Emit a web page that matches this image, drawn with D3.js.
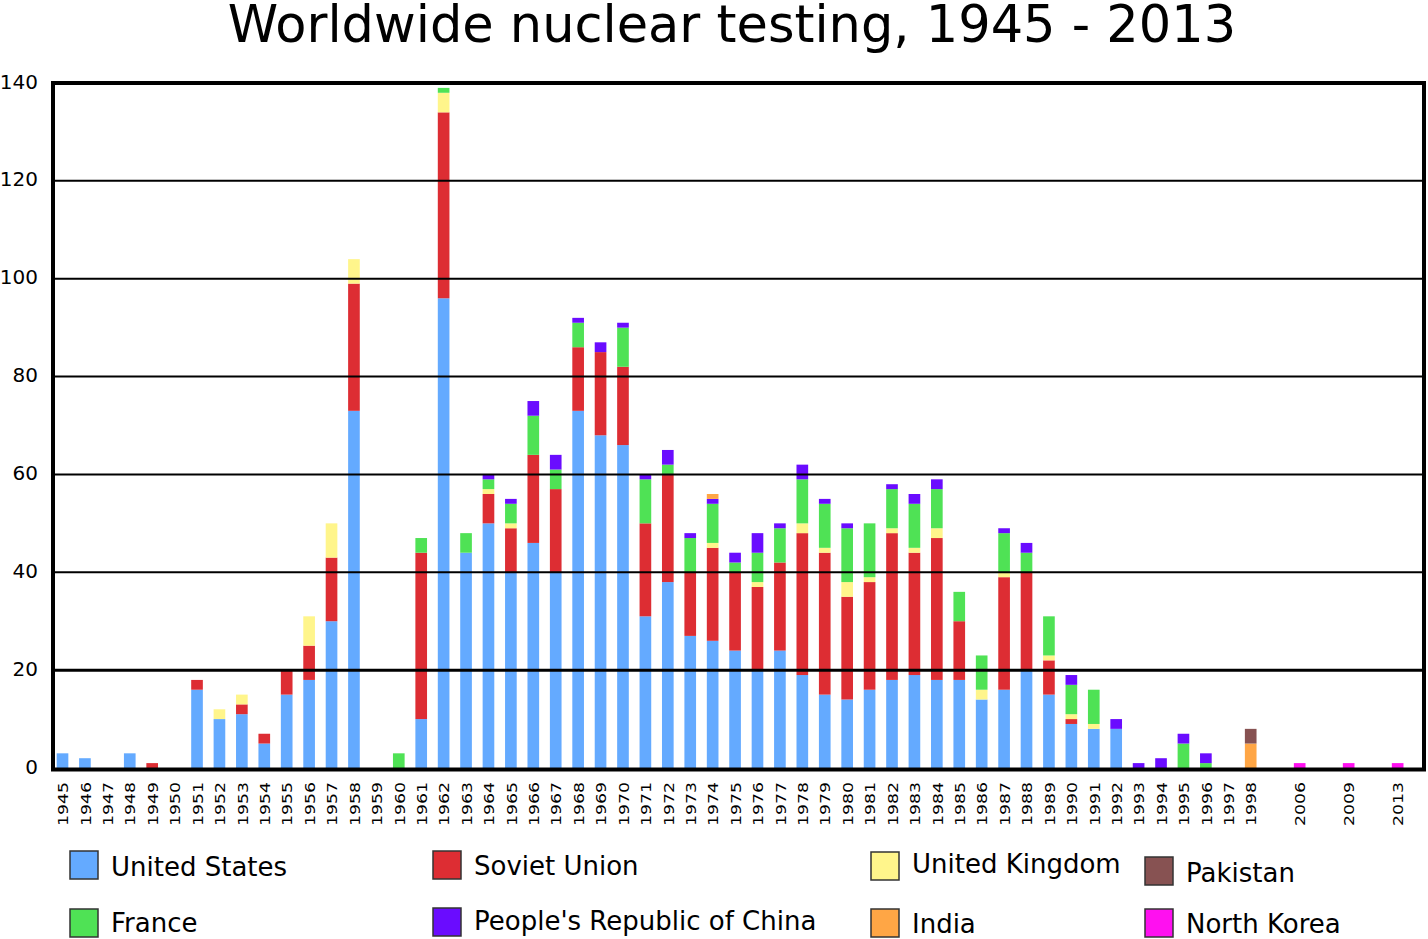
<!DOCTYPE html>
<html>
<head>
<meta charset="utf-8">
<script src="https://cdn.jsdelivr.net/npm/d3@7"></script>
<style>
  body { margin: 0; background: #fff; }
  svg { display: block; font-family: "DejaVu Sans", sans-serif; }
</style>
</head>
<body>
<div id="chart"></div>
<script>
// one entry per column, the last three sit after a wider gap
const yearLabels = ["1945","1946","1947","1948","1949","1950","1951","1952","1953","1954",
  "1955","1956","1957","1958","1959","1960","1961","1962","1963","1964",
  "1965","1966","1967","1968","1969","1970","1971","1972","1973","1974",
  "1975","1976","1977","1978","1979","1980","1981","1982","1983","1984",
  "1985","1986","1987","1988","1989","1990","1991","1992","1993","1994",
  "1995","1996","1997","1998","2006","2009","2013"];

const unitedStates = [3,2,0,3,0,0,16,10,11,5, 15,18,30,73,0,0,10,96,44,50,
  40,46,40,73,68,66,31,38,27,26, 24,20,24,19,15,14,16,18,19,18,
  18,14,16,20,15,9,8,8,0,0, 0,0,0,0,0,0,0];
const sovietUnion = [0,0,0,0,1,0,2,0,2,2, 5,7,13,26,0,0,34,38,0,6,
  9,18,17,13,17,16,19,22,13,19, 16,17,18,29,29,21,22,30,25,29,
  12,0,23,20,7,1,0,0,0,0, 0,0,0,0,0,0,0];
const unitedKingdom = [0,0,0,0,0,0,0,2,2,0, 0,6,7,5,0,0,0,4,0,1,
  1,0,0,0,0,0,0,0,0,1, 0,1,0,2,1,3,1,1,1,2,
  0,2,1,0,1,1,1,0,0,0, 0,0,0,0,0,0,0];
const france = [0,0,0,0,0,0,0,0,0,0, 0,0,0,0,0,3,3,1,4,2,
  4,8,4,5,0,8,9,2,7,8, 2,6,7,9,9,11,11,8,9,8,
  6,7,8,4,8,6,7,0,0,0, 5,1,0,0,0,0,0];
const china = [0,0,0,0,0,0,0,0,0,0, 0,0,0,0,0,0,0,0,0,1,
  1,3,3,1,2,1,1,3,1,1, 2,4,1,3,1,1,0,1,2,2,
  0,0,1,2,0,2,0,2,1,2, 2,2,0,0,0,0,0];
const india = [0,0,0,0,0,0,0,0,0,0, 0,0,0,0,0,0,0,0,0,0,
  0,0,0,0,0,0,0,0,0,1, 0,0,0,0,0,0,0,0,0,0,
  0,0,0,0,0,0,0,0,0,0, 0,0,0,5,0,0,0];
const pakistan = [0,0,0,0,0,0,0,0,0,0, 0,0,0,0,0,0,0,0,0,0,
  0,0,0,0,0,0,0,0,0,0, 0,0,0,0,0,0,0,0,0,0,
  0,0,0,0,0,0,0,0,0,0, 0,0,0,3,0,0,0];
const northKorea = [0,0,0,0,0,0,0,0,0,0, 0,0,0,0,0,0,0,0,0,0,
  0,0,0,0,0,0,0,0,0,0, 0,0,0,0,0,0,0,0,0,0,
  0,0,0,0,0,0,0,0,0,0, 0,0,0,0,1,1,1];

const countries = ["United States","Soviet Union","United Kingdom","France",
  "People's Republic of China","India","Pakistan","North Korea"];
const series = [unitedStates, sovietUnion, unitedKingdom, france, china, india, pakistan, northKorea];
const yTicks = [0,20,40,60,80,100,120,140];

const colors = ["#64aaff","#dd2d33","#fff58b","#4fe255","#6a0cff","#ffa645","#875252","#ff10f0"];

function chartMaker() {
  const width = 1428;
  const height = 939;
  const frame = { left: 53, right: 1424, top: 83, bottom: 769.5 };

  // rows for d3.stack
  const rows = yearLabels.map((y, i) => {
    const r = { year: y, i: i };
    countries.forEach((c, k) => r[c] = series[k][i]);
    return r;
  });
  const stacked = d3.stack().keys(countries)(rows);

  // columns after 1998 are spaced wider
  const lastRegular = yearLabels.indexOf("1998");
  const gapSlots = 2.185;
  const slot = i => i <= lastRegular ? i : lastRegular + (i - lastRegular) * gapSlots;

  const xScale = d3.scaleLinear()
    .domain([-0.424, 60.73])
    .range([frame.left, frame.right]);
  const barWidth = (xScale(1) - xScale(0)) * 0.52;

  const yScale = d3.scaleLinear()
    .domain([0, 140])
    .range([768, frame.top]);

  const svg = d3.select("#chart")
    .append("svg")
      .attr("width", width)
      .attr("height", height);

  svg.append("text")
    .attr("x", 732)
    .attr("y", 42)
    .attr("text-anchor", "middle")
    .style("font-size", "51px")
    .text("Worldwide nuclear testing, 1945 - 2013");

  // bars
  svg.append("g")
    .selectAll("g")
    .data(stacked)
    .enter()
    .append("g")
      .attr("fill", (d, k) => colors[k])
    .selectAll("rect")
    .data(d => d.filter(p => p[1] > p[0]))
    .enter()
    .append("rect")
      .attr("x", d => xScale(slot(d.data.i)) - barWidth / 2)
      .attr("y", d => yScale(d[1]))
      .attr("width", barWidth)
      .attr("height", d => yScale(d[0]) - yScale(d[1]));

  // gridlines over the bars
  svg.append("g")
    .selectAll("line")
    .data(yTicks.filter(t => t > 0 && t < 140))
    .enter()
    .append("line")
      .attr("x1", frame.left)
      .attr("x2", frame.right)
      .attr("y1", d => yScale(d))
      .attr("y2", d => yScale(d))
      .attr("stroke", "#000")
      .attr("stroke-width", d => d == 20 ? 3 : 2);

  svg.append("rect")
    .attr("x", frame.left)
    .attr("y", frame.top)
    .attr("width", frame.right - frame.left)
    .attr("height", frame.bottom - frame.top)
    .attr("fill", "none")
    .attr("stroke", "#000")
    .attr("stroke-width", 4);

  const yAxis = svg.append("g")
    .attr("transform", "translate(38,0)")
    .call(d3.axisLeft(yScale).tickValues(yTicks).tickSize(0).tickPadding(0));
  yAxis.select(".domain").remove();
  yAxis.selectAll("text")
    .attr("dy", "0.25em")
    .style("font-family", "DejaVu Sans")
    .style("font-size", "20px")
    .attr("fill", "#000");

  const xAxis = svg.append("g")
    .attr("transform", "translate(0,782)")
    .call(d3.axisBottom(xScale)
      .tickValues(yearLabels.map((y, i) => slot(i)))
      .tickFormat((d, i) => yearLabels[i])
      .tickSize(0));
  xAxis.select(".domain").remove();
  xAxis.selectAll("text")
    .attr("x", 0)
    .attr("y", 0)
    .attr("dy", "0.36em")
    .attr("transform", "rotate(-90)")
    .attr("text-anchor", "end")
    .attr("textLength", 44)
    .attr("lengthAdjust", "spacingAndGlyphs")
    .style("font-family", "DejaVu Sans")
    .style("font-size", "14.5px")
    .attr("fill", "#000");

  // legend, two rows of four
  const legendPos = [
    { x: 70, y: 851, ty: 876 }, { x: 433, y: 851, ty: 875 },
    { x: 871, y: 852, ty: 873 }, { x: 70, y: 909, ty: 932 },
    { x: 433, y: 908, ty: 930 }, { x: 871, y: 909, ty: 933 },
    { x: 1145, y: 857, ty: 882 }, { x: 1145, y: 909, ty: 933 }
  ];
  const legend = svg.append("g")
    .selectAll("g")
    .data(countries)
    .enter()
    .append("g");
  legend.append("rect")
    .attr("x", (d, k) => legendPos[k].x)
    .attr("y", (d, k) => legendPos[k].y)
    .attr("width", 28)
    .attr("height", 28)
    .attr("fill", (d, k) => colors[k])
    .attr("stroke", "#333")
    .attr("stroke-width", 1.5);
  legend.append("text")
    .attr("x", (d, k) => legendPos[k].x + 41)
    .attr("y", (d, k) => legendPos[k].ty)
    .style("font-size", "26px")
    .text(d => d);
}

chartMaker();
</script>
</body>
</html>
